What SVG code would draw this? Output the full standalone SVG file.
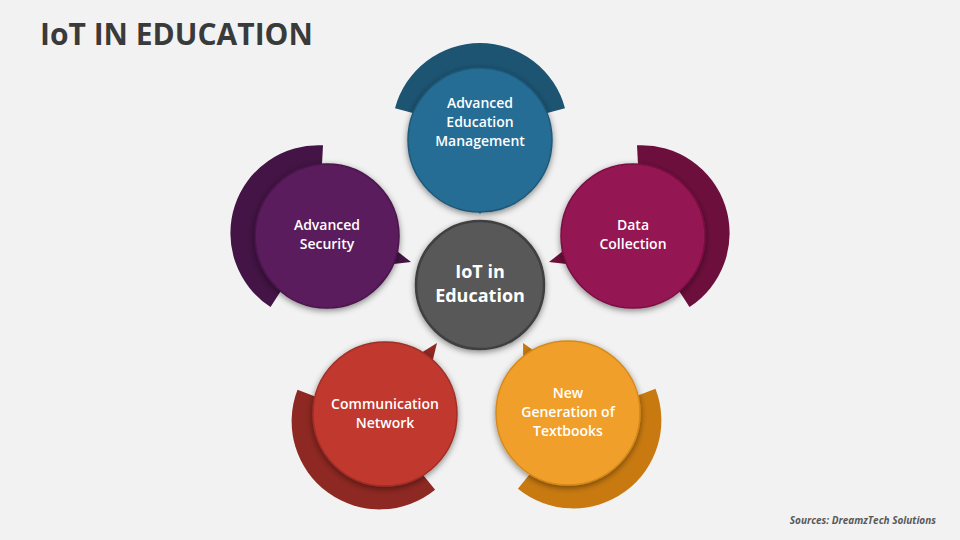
<svg xmlns="http://www.w3.org/2000/svg" width="960" height="540" viewBox="0 0 960 540">
<defs>
<filter id="sh" x="-20%" y="-20%" width="140%" height="140%"><feDropShadow dx="0" dy="2" stdDeviation="3" flood-color="#000" flood-opacity="0.45"/></filter>
<style>
.t{font-family:"Open Sans",sans-serif;font-size:14px;font-weight:600;fill:#fff;text-anchor:middle}
.b{font-size:18px;font-weight:bold}
.c{stroke-width:1.5}
</style>
</defs>
<rect width="960" height="540" fill="#f2f2f2"/>
<text x="40" y="45" font-family="Open Sans, sans-serif" font-weight="bold" font-size="30" fill="#3a3a3a">IoT IN EDUCATION</text>
<text x="936" y="524" font-family="Open Sans, sans-serif" font-weight="bold" font-style="italic" font-size="10" fill="#595959" text-anchor="end">Sources: DreamzTech Solutions</text>
<g id="connectors"></g>
<g id="n-top">
<path d="M480,131 L395,108.2 A88,88 0 0 1 565,108.2 Z" fill="#1c5472"/>
<polygon points="471,200 489,200 480,214" fill="#1c5472"/>
<circle cx="480" cy="140" r="72" fill="#266d95" stroke="#1f5877" class="c" filter="url(#sh)"/>
<text class="t" x="480" y="108">Advanced</text><text class="t" x="480" y="127">Education</text><text class="t" x="480" y="146">Management</text>
</g>
<g id="n-sec">
<path d="M318.4,233.2 L270.5,307 A88,88 0 0 1 323,145.3 Z" fill="#431445"/>
<polygon points="387.1,264.7 392.5,247.5 411,262" fill="#431445"/>
<circle cx="327" cy="236" r="72" fill="#5a1a5b" stroke="#48154a" class="c" filter="url(#sh)"/>
<text class="t" x="327" y="230">Advanced</text><text class="t" x="327" y="249">Security</text>
</g>
<g id="n-data">
<path d="M641.6,233.2 L637,145.3 A88,88 0 0 1 689.5,307 Z" fill="#6d0f3c"/>
<polygon points="567.5,247.5 572.9,264.7 549,262" fill="#6d0f3c"/>
<circle cx="633" cy="236" r="72" fill="#941452" stroke="#7a1043" class="c" filter="url(#sh)"/>
<text class="t" x="633" y="230">Data</text><text class="t" x="633" y="249">Collection</text>
</g>
<g id="n-comm">
<path d="M379.7,421.3 L435.1,489.7 A88,88 0 0 1 297.5,389.8 Z" fill="#8e2822"/>
<polygon points="431.3,366.2 416.9,355.6 437,343" fill="#8e2822"/>
<circle cx="385" cy="414" r="72" fill="#c0382f" stroke="#a02e27" class="c" filter="url(#sh)"/>
<text class="t" x="385" y="409">Communication</text><text class="t" x="385" y="428">Network</text>
</g>
<g id="n-new">
<path d="M573.3,420.3 L655.5,388.8 A88,88 0 0 1 517.9,488.7 Z" fill="#c87a10"/>
<polygon points="538,353.5 523.2,363.7 523,343" fill="#c87a10"/>
<circle cx="568" cy="413" r="72" fill="#f09f29" stroke="#d68a1c" class="c" filter="url(#sh)"/>
<text class="t" x="568" y="398">New</text><text class="t" x="568" y="417">Generation of</text><text class="t" x="568" y="436">Textbooks</text>
</g>
<g id="n-center">
<circle cx="480" cy="285" r="64" fill="#595959" stroke="#3f3f3f" stroke-width="2.5" filter="url(#sh)"/>
<text class="t b" x="480" y="278">IoT in</text><text class="t b" x="480" y="302">Education</text>
</g>
</svg>
